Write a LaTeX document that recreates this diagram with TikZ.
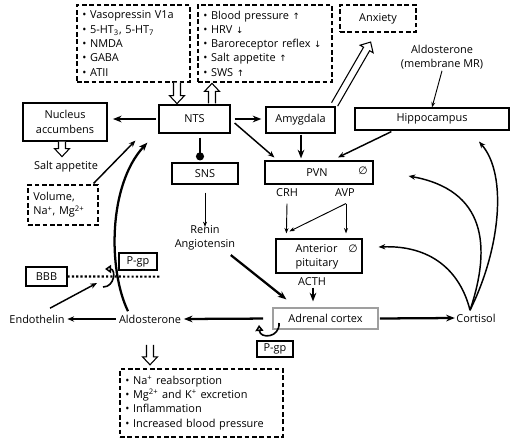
\documentclass[tikz,border=0pt]{standalone}
\usepackage{fontspec}
\setmainfont{Open Sans}
\newfontfamily\symf{DejaVu Sans}
\usetikzlibrary{arrows.meta,calc}
\newcommand{\up}{{\symf\fontsize{6.5}{6.5}\selectfont ↑}}
\newcommand{\dn}{{\symf\fontsize{6.5}{6.5}\selectfont ↓}}
\begin{document}
\begin{tikzpicture}[x=0.75pt,y=-0.75pt,
  font=\fontsize{8.2}{10.7}\selectfont,
  box/.style={draw,line width=0.9pt,inner sep=0pt,align=center},
  dbox/.style={draw,line width=0.9pt,dash pattern=on 3.5pt off 2pt,inner xsep=4pt,inner ysep=1pt,align=left},
  lbl/.style={inner sep=1pt,align=center},
  thk/.style={line width=1.7pt,-{Stealth[length=6.5pt,width=5pt]}},
  med/.style={line width=1.1pt,-{Stealth[length=5pt,width=4pt]}},
  thn/.style={line width=0.7pt,-{Stealth[length=4pt,width=3pt]}},
  curl/.style={line width=1.2pt,-{Triangle[open,length=4.5pt,width=6pt]}},
  pics/harr/.style={code={\draw[line width=0.8pt,fill=white] (-3.5,0) -- (-3.5,#1-8) -- (-7.5,#1-8) -- (0,#1) -- (7.5,#1-8) -- (3.5,#1-8) -- (3.5,0);}},
]
\useasboundingbox[fill=white] (0,0) rectangle (520,443);

% dashed boxes
\node[dbox,text width=76.75pt,minimum height=57.75pt] (recbox) at (133.5,43.5)
  {• Vasopressin V1a\\• 5-HT\textsubscript{3}, 5-HT\textsubscript{7}\\• NMDA\\• GABA\\• ATII};
\node[dbox,text width=92.5pt,minimum height=57.75pt] (effbox) at (265,43.5)
  {• Blood pressure \up\\• HRV \dn\\• Baroreceptor reflex \dn\\• Salt appetite \up\\• SWS \up};
\node[dbox,align=center,minimum width=57pt,minimum height=20.25pt,inner sep=0pt] (anx) at (378,18.5) {Anxiety};
\node[dbox,text width=44.5pt,minimum height=30pt] (vol) at (63,205) {Volume,\\Na\textsuperscript{+}, Mg\textsuperscript{2+}};
\node[dbox,text width=114.25pt,minimum height=51pt] (eff2) at (201.5,403)
  {• Na\textsuperscript{+} reabsorption\\• Mg\textsuperscript{2+} and K\textsuperscript{+} excretion\\• Inflammation\\• Increased blood pressure};

% solid boxes
\node[box,minimum width=53.25pt,minimum height=21pt] (nts) at (194.5,119) {NTS};
\node[box,minimum width=63pt,minimum height=28.5pt] (nacc) at (65,122) {Nucleus\\accumbens};
\node[box,minimum width=51.75pt,minimum height=19.5pt] (amyg) at (300.5,120) {Amygdala};
\node[box,minimum width=115.5pt,minimum height=16.5pt] (hippo) at (432,119) {Hippocampus};
\node[box,minimum width=49.5pt,minimum height=15.75pt] (sns) at (205,173.5) {SNS};
\node[box,minimum width=81pt,minimum height=17.25pt] (pvn) at (319,172.5) {\hspace*{-3pt}PVN};
\node[lbl,font=\symf\fontsize{8}{8}\selectfont] (pvnx) at (363,171) {∅};
\node[box,minimum width=64.5pt,minimum height=25.5pt] (antpit) at (319,256) {};
\node[lbl,anchor=west,align=left] (antpitt) at (294,257) {Anterior\\pituitary};
\node[lbl,font=\symf\fontsize{8}{8}\selectfont] (antpitx) at (353,249) {∅};
\node[box,draw=gray!75,minimum width=78.75pt,minimum height=15.75pt] (adrenal) at (325.5,318.5) {Adrenal cortex};
\node[box,minimum width=30.75pt,minimum height=14.25pt] (bbb) at (46.5,276.5) {BBB};
\node[box,minimum width=28.5pt,minimum height=12.75pt] (pgp1) at (138,261.5) {P-gp};
\node[box,minimum width=27pt,minimum height=12pt] (pgp2) at (275,349) {P-gp};

% plain labels
\node[lbl] (aldomr) at (442,57) {Aldosterone\\(membrane MR)};
\node[lbl] (salt) at (66,167) {Salt appetite};
\node[lbl] (crh) at (287,193) {CRH};
\node[lbl] (avp) at (345,193) {AVP};
\node[lbl] (acth) at (312,282) {ACTH};
\node[lbl] (renin) at (205,238) {Renin\\Angiotensin};
\node[lbl] (cortisol) at (476,318) {Cortisol};
\node[lbl] (aldo) at (150,319) {Aldosterone};
\node[lbl] (endo) at (37,319) {Endothelin};

% hollow arrows
\pic at ($(recbox.south)+(43.5,0)$) {harr=21};
\pic[rotate=180] at ($(nts.north)+(17.5,-1)$) {harr=20};
\pic at ($(nacc.south)+(-3,0)$) {harr=15};
\pic[rotate=150] at ($(amyg.north east)+(-1,-2)$) {harr=72};
\pic at ($(aldo.south)+(0,20)$) {harr=20};

% connectors
\draw[thk,shorten <=2pt,shorten >=4pt] (nts.west) -- (nts.west -| nacc.east);
\draw[thk,shorten <=3pt,shorten >=3pt] (nts.east) -- (nts.east -| amyg.west);
\draw[med] ($(nts.east)+(4,4)$) -- ($(pvn.north west)+(10,-3)$);
\draw[line width=1.7pt,-{Circle[length=6pt]}] ($(nts.south)+(5.5,4)$) -- ($(sns.north)+(-5,-2)$);
\draw[thn] ($(sns.south)+(0,8)$) -- ($(renin.north)+(0,3)$);
\draw[thk] ($(renin.south east)+(-6,3)$) -- ($(adrenal.north west)+(14,-8)$);
\draw[med] ($(vol.north east)+(-5,-1)$) -- ($(nts.south west)+(-23,7)$);
\draw[thk] ($(aldo.north)+(-22,-2)$) .. controls (108,270) and (108,185) .. ($(nts.south west)+(-11,9)$);
\draw[thk] ($(amyg.south)+(0.5,1)$) -- ($(pvn.north)+(-18,-2)$);
\draw[med] ($(hippo.south west)+(37,1)$) -- ($(pvn.north)+(19,-3)$);
\draw[thn] (aldomr.south) -- (hippo.north);
\draw[thn] ($(crh.south)+(0,5)$) -- ($(antpit.north west)+(11,-5)$);
\draw[thn] ($(avp.south)+(1,5)$) -- ($(antpit.north)+(27,-5)$);
\draw[thn] ($(avp.south)+(1,5)$) -- ($(antpit.north west)+(14,-7)$);
\draw[thk] ($(acth.south)+(1,0)$) -- ($(adrenal.north)+(-12.5,-6)$);
\draw[thk,shorten <=1pt] (adrenal.east) -- (cortisol.west);
\draw[thk,shorten <=7pt,shorten >=1pt] (adrenal.west) -- (aldo.east);
\draw[med,shorten <=1pt,shorten >=1pt] (aldo.west) -- (endo.east);
\draw[med] ($(endo.north)+(13,-5)$) -- (97,283);
\draw[line width=1.6pt,dash pattern=on 1.6pt off 1.6pt] (bbb.east) -- ($(pgp1.south east)+(3,6)$);
\draw[curl] (103,287) .. controls (115,287) and (116,269) .. (105,269);
\draw[curl] (279,323) .. controls (280,338) and (260,339) .. (259,325);

% cortisol feedback
\coordinate (cs) at ($(cortisol.north)+(-6,-2)$);
\draw[med] (cs) .. controls (500,250) and (508,175) .. ($(hippo.south)+(47,11)$);
\draw[med] (cs) .. controls (492,245) and (485,190) .. ($(pvn.east)+(35,3.5)$);
\draw[med] (cs) .. controls (460,270) and (430,245) .. ($(antpit.east)+(16,-9)$);
\end{tikzpicture}
\end{document}
